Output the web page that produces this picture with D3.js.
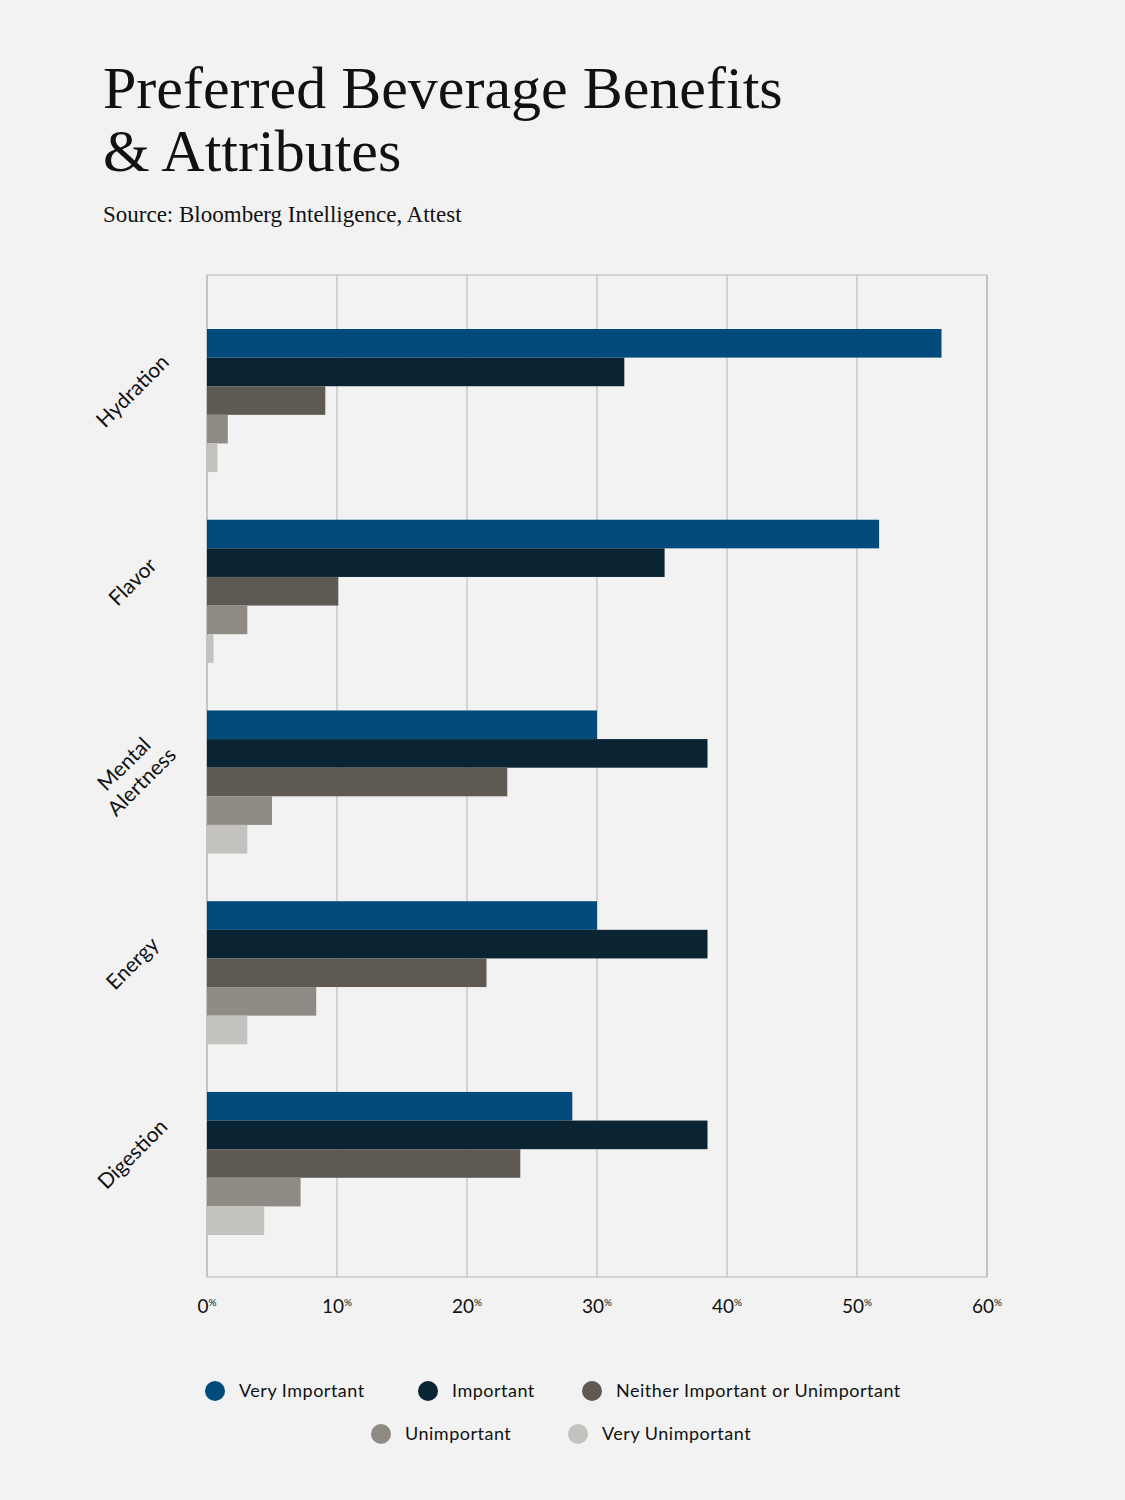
<!DOCTYPE html>
<html><head><meta charset="utf-8">
<script src="https://cdn.jsdelivr.net/npm/d3@7.9.0/dist/d3.min.js"></script>
<style>
body{margin:0;background:#f1f2f1;}
svg{display:block;}
</style></head>
<body>
<svg id="chart" width="1125" height="1500"></svg>
<script>
// 데이터
const categories = ["Hydration", "Flavor", "Mental Alertness", "Energy", "Digestion"];
const series = ["Very Important", "Important", "Neither Important or Unimportant", "Unimportant", "Very Unimportant"];
const colors = ["#004a7c", "#0b2433", "#5e5953", "#8f8a84", "#c4c2bf"];
const values = {
  "Hydration":        [56.5, 32.1, 9.1, 1.6, 0.8],
  "Flavor":           [51.7, 35.2, 10.1, 3.1, 0.5],
  "Mental Alertness": [30.0, 38.5, 23.1, 5.0, 3.1],
  "Energy":           [30.0, 38.5, 21.5, 8.4, 3.1],
  "Digestion":        [28.1, 38.5, 24.1, 7.2, 4.4]
};
const ticks = [0, 10, 20, 30, 40, 50, 60];

const svg = d3.select("#chart");
const plotLeft = 207, plotRight = 987, plotTop = 275, plotBottom = 1277;

// 제목
svg.append("text").attr("x", 103).attr("y", 108)
  .attr("font-family", "Liberation Serif, serif").attr("font-size", 60).attr("fill", "#111")
  .text("Preferred Beverage Benefits");
svg.append("text").attr("x", 103).attr("y", 171)
  .attr("font-family", "Liberation Serif, serif").attr("font-size", 60).attr("fill", "#111")
  .text("& Attributes");
svg.append("text").attr("x", 103).attr("y", 222)
  .attr("font-family", "Liberation Serif, serif").attr("font-size", 23).attr("fill", "#111")
  .text("Source: Bloomberg Intelligence, Attest");

const x = d3.scaleLinear().domain([0, 60]).range([plotLeft, plotRight]);
const y = d3.scaleBand().domain(categories).range([329, 1235]).paddingInner(0.25).paddingOuter(0);
const yi = d3.scaleBand().domain(series).range([0, y.bandwidth()]);

// 그리드
svg.append("rect").attr("x", plotLeft).attr("y", plotTop).attr("width", plotRight - plotLeft).attr("height", plotBottom - plotTop)
  .attr("fill", "none").attr("stroke", "#b5b5b5");
svg.selectAll("line.grid").data(ticks).join("line")
  .attr("x1", d => x(d)).attr("x2", d => x(d)).attr("y1", plotTop).attr("y2", plotBottom)
  .attr("stroke", "#b5b5b5");

// 막대
svg.selectAll("g.cat").data(categories).join("g")
  .attr("transform", d => `translate(0,${y(d)})`)
  .selectAll("rect").data(c => values[c].map((v, i) => ({ v, s: series[i], i })))
  .join("rect")
  .attr("x", x(0)).attr("y", d => yi(d.s))
  .attr("width", d => x(d.v) - x(0)).attr("height", yi.bandwidth())
  .attr("fill", d => colors[d.i]);

// 카테고리 라벨
const labelLines = {"Mental Alertness": ["Mental", "Alertness"]};
categories.forEach(c => {
  const cy = y(c) + y.bandwidth() / 2 - 10;
  const t = svg.append("text")
    .attr("transform", `translate(${plotLeft - 75},${cy}) rotate(-45)`)
    .attr("text-anchor", "middle").attr("font-family", "Lato, sans-serif")
    .attr("font-size", 21).attr("fill", "#111");
  const lines = labelLines[c] || [c];
  lines.forEach((l, i) => {
    t.append("tspan").attr("x", 0).attr("dy", i === 0 ? (lines.length > 1 ? -4 : 8) : 25).text(l);
  });
});

// 눈금 라벨
const tl = svg.selectAll("text.tick").data(ticks).join("text")
  .attr("x", d => x(d)).attr("y", 1313).attr("text-anchor", "middle")
  .attr("font-family", "Lato, sans-serif").attr("font-size", 19).attr("fill", "#111");
tl.append("tspan").text(d => d);
tl.append("tspan").attr("font-size", 10).attr("dy", -7).text("%");

// 범례
const legend = [
  { i: 0, cx: 215, cy: 1391 }, { i: 1, cx: 428, cy: 1391 }, { i: 2, cx: 592, cy: 1391 },
  { i: 3, cx: 381, cy: 1434 }, { i: 4, cx: 578, cy: 1434 }
];
const lg = svg.selectAll("g.lg").data(legend).join("g");
lg.append("circle").attr("cx", d => d.cx).attr("cy", d => d.cy).attr("r", 10).attr("fill", d => colors[d.i]);
lg.append("text").attr("x", d => d.cx + 24).attr("y", d => d.cy + 6)
  .attr("font-family", "Lato, sans-serif").attr("font-size", 18).attr("letter-spacing", 0.5)
  .attr("fill", "#111").text(d => series[d.i]);
</script>
</body></html>
